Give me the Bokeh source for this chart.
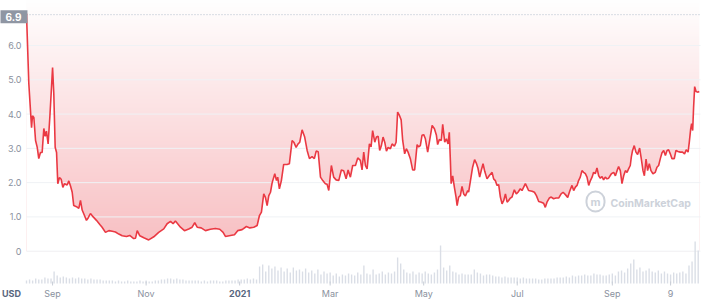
import numpy as np
import pandas as pd
from bokeh.plotting import figure
from bokeh.models import Range1d, Label, ColumnDataSource
from bokeh.core.properties import value
from bokeh.embed import file_html
from bokeh.resources import INLINE

START = "2020-08-15"
DAY_MS = 86400000

# price series: day offset from START, price in USD
price_days = [
    0, 1.5, 2.6, 3.3, 3.9, 4.8, 5.9, 7.0, 8.0, 9.1, 10.2, 11.3, 12.2, 13.0, 14.1, 15.2, 16.3, 17.0, 17.8, 18.7,
    19.6, 20.4, 21.5, 22.6, 23.7, 24.8, 26.5, 27.6, 28.7, 29.8, 30.8, 32.6, 34.1, 35.2, 36.3, 37.8, 39.1, 40.2,
    41.7, 43.5, 45.6, 47.8, 49.3, 51.5, 53.7, 55.9, 58.0, 60.2, 62.4, 65.2, 67.3, 69.9,
    71.1, 72.2, 73.9, 76.5, 79.7, 83.0, 86.2, 89.5, 91.7, 93.9, 95.6, 97.1, 100.4, 103.0, 105.8, 108.0, 109.7,
    111.3, 113.9, 116.7, 119.9, 123.2, 126.0, 128.2, 129.7, 133.0, 135.6, 137.7, 140.6, 143.4, 145.6,
    148.2, 150.4, 151.9, 153.2, 154.7, 155.8, 156.9, 158.0, 159.1, 160.2, 161.9, 163.0, 163.8, 164.9, 166.2,
    167.7, 169.9, 171.4, 173.2, 174.3, 175.8, 177.1, 178.2, 179.7, 181.4, 183.0, 184.5, 186.2, 187.7, 188.9,
    190.2, 191.7, 193.2, 194.9, 196.0, 197.1, 198.8, 200.3, 201.9, 203.6, 205.3, 206.8, 208.4, 209.7, 211.2,
    212.7, 214.5, 216.0, 217.7,
    218.8, 219.9, 221.0, 222.1, 223.6, 224.7, 225.7, 227.1, 228.2, 229.3, 230.3, 231.4, 232.5, 233.6, 234.7,
    235.8, 237.3, 238.4, 239.9, 241.0, 242.0, 243.2, 244.3, 245.3, 246.6, 247.7, 248.8, 250.3, 251.8, 253.1,
    254.7, 255.7, 256.8, 257.9, 259.0, 260.1, 261.6, 262.7, 264.5, 266.0, 267.3, 268.1, 269.2, 270.5, 271.4,
    272.7, 273.8, 274.9, 275.7, 276.4, 276.9, 277.9, 279.0, 280.1, 280.8, 281.8, 282.9, 284.0, 285.1, 286.2,
    287.7, 288.3, 289.4,
    290.9, 292.2, 293.3, 294.4, 295.5, 296.6, 297.7, 298.8, 300.3, 301.8, 303.6, 304.6, 305.7, 306.8, 307.9,
    309.0, 310.1, 311.2, 312.3, 313.4, 314.4, 315.5, 316.6, 318.1, 319.4, 320.5, 322.0, 323.1, 324.2, 325.3,
    326.4, 327.4, 329.7, 331.2, 332.5, 334.0, 335.7, 337.2, 338.3, 339.4, 340.9, 342.2, 343.7, 345.3, 347.0,
    348.6, 349.9, 351.4, 352.9, 354.2, 355.7, 356.8, 357.9,
    359.0, 360.0, 361.1, 362.2, 363.3, 364.4, 365.5, 366.6, 367.7, 368.8, 369.8, 370.9, 372.0, 373.1, 374.2,
    375.3, 376.3, 377.4, 378.5, 379.6, 381.4, 382.9, 384.0, 385.1, 386.1, 387.2, 388.3, 389.4, 390.5, 391.6,
    392.6, 393.7, 394.4, 395.2, 396.3, 397.4, 398.5, 399.8, 400.9, 402.0, 402.9, 404.0, 405.0, 406.1, 407.2,
    408.5, 410.0, 411.1, 412.2, 413.3, 414.4, 415.5, 416.6, 417.7, 418.7, 419.8, 420.9, 422.4, 423.5, 424.8,
    426.3, 427.8, 429.1, 430.2, 431.4, 432.2, 433.1, 433.7, 434.4, 435.0, 435.7, 436.6, 437.6, 438.7,
]
price_usd = [
    6.93, 4.9, 4.1, 3.6, 3.95, 3.9, 3.23, 3.03, 2.7, 2.88, 2.88, 3.58, 3.35, 3.5, 3.13, 3.9, 4.78, 5.36, 4.6, 3.03,
    2.88, 1.97, 2.15, 2.1, 1.86, 1.97, 1.93, 2.05, 1.9, 1.72, 1.33, 1.3, 1.25, 1.48, 1.2, 1.04, 0.9, 0.97,
    1.1, 1.0, 0.9, 0.78, 0.7, 0.55, 0.6, 0.58, 0.56, 0.5, 0.45, 0.43, 0.46, 0.37,
    0.38, 0.6, 0.45, 0.39, 0.33, 0.42, 0.55, 0.65, 0.8, 0.87, 0.8, 0.88, 0.7, 0.6, 0.65, 0.7, 0.83,
    0.7, 0.68, 0.6, 0.64, 0.66, 0.64, 0.55, 0.43, 0.46, 0.48, 0.6, 0.63, 0.72, 0.68,
    0.7, 0.75, 1.04, 1.14, 1.67, 1.57, 1.33, 1.62, 1.72, 2.0, 2.26, 2.06, 2.16, 1.82, 2.06,
    2.53, 2.53, 2.55, 3.23, 3.18, 3.03, 3.13, 3.18, 3.54, 3.33, 2.94, 2.7, 2.76, 2.7, 2.92,
    2.9, 2.16, 2.06, 1.97, 1.95, 1.77, 2.5, 2.16, 2.08, 2.06, 2.37, 2.35, 2.11, 2.37, 2.16,
    2.5, 2.5, 2.72, 2.65,
    2.37, 2.89, 2.5, 2.4, 3.13, 3.04, 3.52, 3.18, 3.33, 3.35, 2.94, 3.08, 3.33, 3.18, 2.92,
    3.03, 2.99, 3.13, 3.06, 3.18, 4.06, 3.96, 3.83, 3.23, 2.84, 2.99, 2.89, 2.7, 2.37, 2.37,
    3.11, 3.04, 3.08, 3.38, 3.4, 3.28, 2.89, 3.18, 3.67, 3.57, 3.38, 3.11, 3.26, 3.23, 3.7,
    3.18, 3.28, 3.13, 3.47, 2.65, 1.97, 2.2, 1.87, 1.58, 1.33, 1.58, 1.62, 1.89, 1.67, 1.61,
    1.77, 1.72, 2.03,
    2.45, 2.67, 2.57, 2.42, 2.16, 2.37, 2.55, 2.33, 2.11, 2.21, 2.3, 2.11, 2.06, 1.92, 1.94,
    1.58, 1.38, 1.48, 1.67, 1.43, 1.48, 1.55, 1.58, 1.79, 1.67, 1.72, 1.82, 1.77, 1.87, 1.97,
    1.87, 1.77, 1.75, 1.72, 1.62, 1.45, 1.43, 1.4, 1.28, 1.43, 1.55, 1.58, 1.53, 1.55, 1.55,
    1.67, 1.72, 1.65, 1.57, 1.75, 1.92, 1.77, 1.87,
    1.92, 2.06, 2.16, 2.35, 2.3, 2.26, 2.16, 1.92, 2.06, 2.16, 2.3, 2.26, 2.43, 2.2, 2.13,
    2.18, 2.08, 2.16, 2.11, 2.13, 2.26, 2.3, 2.2, 2.35, 2.47, 2.35, 1.97, 2.2, 2.35, 2.3,
    2.4, 2.5, 2.75, 2.94, 3.08, 2.89, 2.82, 3.01, 2.69, 2.35, 2.2, 2.69, 2.35, 2.55, 2.35,
    2.26, 2.3, 2.45, 2.5, 2.7, 2.87, 2.94, 2.79, 2.94, 2.96, 2.84, 2.7, 2.7, 2.94, 2.91,
    2.89, 2.89, 2.84, 2.96, 2.89, 3.18, 3.57, 3.72, 3.52, 4.2, 4.8, 4.66, 4.64, 4.66,
]

# volume bars (relative units), one every second day from START
volume_days = list(range(0, 439, 2))
volume = [
    3, 4, 3, 5, 4, 4, 6, 5, 5,
    12, 8, 6, 7, 6, 5, 6, 5, 6, 5, 5, 4, 5, 4, 4,
    4, 3, 3, 3, 3, 2, 3, 2, 2, 3, 2, 2, 2, 3, 2,
    3, 2, 2, 3, 3, 4, 4, 5, 5, 4, 5, 4, 4, 3, 3,
    3, 3, 3, 2, 3, 2, 3, 3, 3, 2, 2, 3, 3, 3, 3, 4,
    4, 4, 5, 4, 5, 4, 17, 19, 12, 18, 15, 17, 13, 16, 12,
    15, 11, 16, 13, 14, 12, 15, 11, 13, 10, 14, 9, 12, 10,
    11, 8, 10, 7, 9, 8, 10, 9, 8, 11, 9, 18, 10, 9, 14, 9,
    10, 12, 9, 11, 10, 12, 26, 20, 14, 11, 10, 12, 9, 11, 10,
    12, 10, 9, 11, 14, 38, 16, 13, 18, 12, 11, 9, 10, 9, 9,
    9, 14, 11, 10, 8, 9, 9, 8, 7, 7, 6, 7, 6, 6, 6,
    6, 5, 6, 5, 5, 5, 5, 4, 4, 5, 5, 5, 5, 6, 6, 6,
    7, 6, 8, 7, 8, 8, 9, 8, 8, 10, 9, 9, 8, 8, 9,
    10, 8, 12, 13, 11, 15, 20, 24, 14, 16, 12, 13, 15, 12, 11,
    13, 10, 12, 10, 9, 11, 10, 11, 12, 10, 18, 22, 42, 33,
]

tick_dates = ["2020-09-01", "2020-11-01", "2021-01-01", "2021-03-01",
              "2021-05-01", "2021-07-01", "2021-09-01", "2021-10-09"]
tick_labels = ["Sep", "Nov", "2021", "Mar", "May", "Jul", "Sep", "9"]
tick_bold = [False, False, True, False, False, False, False, False]
y_ticks = [0, 1, 2, 3, 4, 5, 6]
y_labels = ["0", "1.0", "2.0", "3.0", "4.0", "5.0", "6.0"]
ath_value = 6.9
currency = "USD"

# ---- layout constants (pixels) ----
W, H = 703, 300
PLOT_L, PLOT_R = 26, 700          # data area left/right edge
ZERO_Y = 250.7                    # canvas y of price 0
PX_PER_UNIT = 34.28
VOL_BASE_Y = 283                  # canvas y of volume baseline
SPAN_DAYS = 439.5
PX_PER_DAY = (PLOT_R - PLOT_L) / SPAN_DAYS

FONT = "Inter"
RED = "#ea3943"
GRAY = "#8a919e"
DARK = "#58667e"

start = pd.Timestamp(START)
start_ms = start.value // 10**6
x0 = start_ms - PLOT_L / PX_PER_DAY * DAY_MS
x1 = start_ms + (W - PLOT_L) / PX_PER_DAY * DAY_MS
end_ms = start_ms + SPAN_DAYS * DAY_MS
y_hi = ZERO_Y / PX_PER_UNIT
y_lo = -(H - ZERO_Y) / PX_PER_UNIT


def y_at(canvas_y):
    return (ZERO_Y - canvas_y) / PX_PER_UNIT


def x_at(canvas_x):
    return start_ms + (canvas_x - PLOT_L) / PX_PER_DAY * DAY_MS


dates = start + pd.to_timedelta(price_days, unit="D")
vdates = start + pd.to_timedelta(volume_days, unit="D")
price = np.array(price_usd)

src = ColumnDataSource(dict(x=dates, y=price, zero=np.zeros(len(price))))
vsrc = ColumnDataSource(dict(x=vdates, top=volume))

p = figure(width=W, height=H, x_axis_type=None, y_axis_type=None, output_backend="svg",
           toolbar_location=None, x_range=Range1d(x0, x1), y_range=Range1d(y_lo, y_hi),
           min_border=0)
p.outline_line_color = None
p.background_fill_color = "white"
p.border_fill_color = "white"
p.xgrid.visible = False
p.ygrid.visible = False
p.extra_y_ranges = {"vol": Range1d(-(H - VOL_BASE_Y), VOL_BASE_Y)}

# vertical gradient background above zero, over the span of the price data
n = 256
a = 0.33 * (1 - (np.arange(n) + 0.5) / n)
r = (255 - (255 - 0xea) * a).astype(np.uint32)
g = (255 - (255 - 0x39) * a).astype(np.uint32)
b = (255 - (255 - 0x43) * a).astype(np.uint32)
rgba = (255 << 24) | (b << 16) | (g << 8) | r
img = np.repeat(rgba.reshape(n, 1), 2, axis=1).astype(np.uint32)
p.image_rgba(image=[img], x=start_ms, y=0, dw=price_days[-1] * DAY_MS, dh=y_hi, level="image")
# white below the price line
p.varea(x="x", y1="zero", y2="y", source=src, fill_color="white", level="image")

# horizontal grid lines
p.segment(x0=start_ms, x1=end_ms, y0=y_ticks, y1=y_ticks, line_color="#eff2f5",
          line_width=1, level="underlay")
# ATH dotted line
p.segment(x0=[start_ms], x1=[end_ms], y0=[ath_value], y1=[ath_value], line_color="#b4bccb",
          line_dash="1 2", line_width=1, level="underlay")

# volume bars
p.vbar(x="x", top="top", bottom=0, width=0.9 * DAY_MS, source=vsrc, y_range_name="vol",
       fill_color="#dadee6", line_color=None)

# price line
p.line(x="x", y="y", source=src, line_color=RED, line_width=1.6)

# y tick labels
p.text(x=[x_at(21)] * len(y_ticks), y=y_ticks, text=y_labels, text_font=value(FONT),
       text_font_size="9px", text_color=GRAY, text_align="right", text_baseline="middle")

# x ticks and labels
tick_ms = [int(pd.Timestamp(d).value // 10**6) for d in tick_dates]
p.segment(x0=tick_ms, x1=tick_ms, y0=y_at(281), y1=y_at(285), line_color="#c8cdd6", line_width=1)
norm = [i for i, bd in enumerate(tick_bold) if not bd]
bold = [i for i, bd in enumerate(tick_bold) if bd]
p.text(x=[tick_ms[i] for i in norm], y=y_at(293), text=[tick_labels[i] for i in norm],
       text_font=value(FONT), text_font_size="9px", text_color=GRAY,
       text_align="center", text_baseline="middle")
p.text(x=[tick_ms[i] for i in bold], y=y_at(293), text=[tick_labels[i] for i in bold],
       text_font=value(FONT), text_font_size="9px", text_font_style="bold", text_color=DARK,
       text_align="center", text_baseline="middle")

# currency label
p.add_layout(Label(x=11, y=H - 293, x_units="screen", y_units="screen", text=currency,
                   text_font=FONT, text_font_size="9px", text_font_style="bold",
                   text_color=DARK, text_align="center", text_baseline="middle"))
# ATH value badge
p.add_layout(Label(x=13, y=ath_value, x_units="screen", y_units="data", y_offset=-2,
                   text=f"{ath_value:.1f}",
                   text_font=FONT, text_font_size="10px", text_font_style="bold",
                   text_color="white", text_align="center", text_baseline="middle",
                   background_fill_color="#8f96a3",
                   padding=dict(left=6, right=6, top=3, bottom=2)))
# watermark
p.add_layout(Label(x=595, y=H - 201, x_units="screen", y_units="screen", text="m",
                   text_font=FONT, text_font_size="11px", text_font_style="bold",
                   text_color="#cdd2da", text_align="center", text_baseline="middle",
                   border_line_color="#cdd2da", border_line_width=2, border_radius=10,
                   padding=dict(left=4, right=4, top=3, bottom=3)))
p.add_layout(Label(x=610, y=H - 203, x_units="screen", y_units="screen", text="CoinMarketCap",
                   text_font=FONT, text_font_size="10.5px", text_font_style="bold",
                   text_color="#cdd2da", text_align="left", text_baseline="middle"))

open("out.html", "w").write(file_html(p, INLINE))
